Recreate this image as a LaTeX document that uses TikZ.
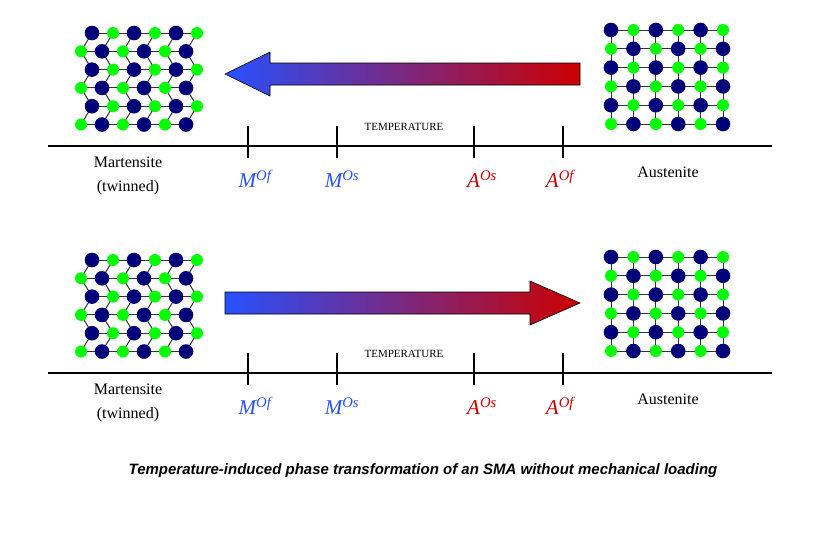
\documentclass[tikz,border=0pt]{standalone}
\usepackage{fontspec}
\setmainfont{Liberation Serif}
\newfontfamily\capfont{Liberation Sans}
\begin{document}
\begin{tikzpicture}[x=1pt,y=-1pt,
  dk/.style={fill={rgb,255:red,0;green,0;blue,120},draw=none},
  gr/.style={fill={rgb,255:red,0;green,255;blue,0},draw=none},
  bond/.style={draw=black!80,line width=1pt},
  axis/.style={line width=2.2pt},
  tick/.style={line width=2.2pt},
  lab/.style={font=\fontsize{21}{21}\selectfont\itshape},
  nm/.style={font=\fontsize{16}{24}\selectfont,align=center}]
\useasboundingbox (0,0) rectangle (818,539);
\definecolor{ab}{RGB}{40,80,255}
\definecolor{ar}{RGB}{205,0,0}
\foreach \dy/\s in {0/t,227/b}{
 \begin{scope}[yshift=-\dy]
 \foreach \r in {0,...,5}{
   \pgfmathsetmacro\yy{33+18.3*\r}
   \pgfmathsetmacro\xo{mod(\r,2)==0 ? 92 : 81}
   \draw[bond] (\xo,\yy) -- ++(105,0);
   \ifnum\r<5
   \foreach \c in {0,...,5}{
     \pgfmathsetmacro\xn{mod(\r,2)==0 ? 81 : 92}
     \draw[bond] (\xo+21*\c,\yy) -- (\xn+21*\c,\yy+18.3);
   }\fi
 }
 \foreach \r in {0,...,5}{
   \pgfmathsetmacro\yy{33+18.3*\r}
   \pgfmathsetmacro\xo{mod(\r,2)==0 ? 92 : 81}
   \foreach \c in {0,...,5}{
     \pgfmathtruncatemacro\k{mod(\r+\c,2)}
     \ifnum\k=0 \fill[dk] (\xo+21*\c,\yy) circle (7.3);
     \else \fill[gr] (\xo+21*\c,\yy) circle (6);\fi
   }
 }
 \foreach \r in {0,...,5}{
   \draw[bond] (611,30+18.8*\r) -- (723,30+18.8*\r);
   \draw[bond] (611+22.4*\r,30) -- (611+22.4*\r,124);
 }
 \foreach \r in {0,...,5}{\foreach \c in {0,...,5}{
   \pgfmathtruncatemacro\k{mod(\r+\c,2)}
   \ifnum\k=0 \fill[dk] (611+22.4*\c,30+18.8*\r) circle (7.3);
   \else \fill[gr] (611+22.4*\c,30+18.8*\r) circle (6);\fi
 }}
 \coordinate (L\s) at (48,146); \coordinate (R\s) at (772,146);
 \draw[axis] (L\s) -- (R\s);
 \foreach \x/\n in {248/mf,337/ms,474/as,563/af}{
   \coordinate (t\n\s) at (\x,126); \coordinate (u\n\s) at (\x,158);
   \draw[tick] (t\n\s) -- (u\n\s);}
 \node[font=\fontsize{11}{11}\selectfont] (temp\s) at (404,127) {TEMPERATURE};
 \node[lab,text=ab] (mf\s) at (255,179) {M$^{\mathit{Of}}$};
 \node[lab,text=ab] (ms\s) at (342,179) {M$^{\mathit{Os}}$};
 \node[lab,text=ar] (as\s) at (482,179) {A$^{\mathit{Os}}$};
 \node[lab,text=ar] (af\s) at (560,179) {A$^{\mathit{Of}}$};
 \node[nm] (mart\s) at (128,176) {Martensite\\(twinned)};
 \node[nm] (aust\s) at (668,172) {Austenite};
 \end{scope}
}
\shade[left color=ab,right color=ar,draw=black,line width=0.6pt]
  (580,63) -- (270,63) -- (270,52) -- (225,74) -- (270,96) -- (270,85) -- (580,85) -- cycle;
\shade[left color=ab,right color=ar,draw=black,line width=0.6pt]
  (225,292) -- (530,292) -- (530,281) -- (580,303) -- (530,325) -- (530,314) -- (225,314) -- cycle;
\node[font=\capfont\bfseries\itshape\fontsize{15}{17}\selectfont] (cap) at (423,471)
  {Temperature-induced phase transformation of an SMA without mechanical loading};
\end{tikzpicture}
\end{document}
